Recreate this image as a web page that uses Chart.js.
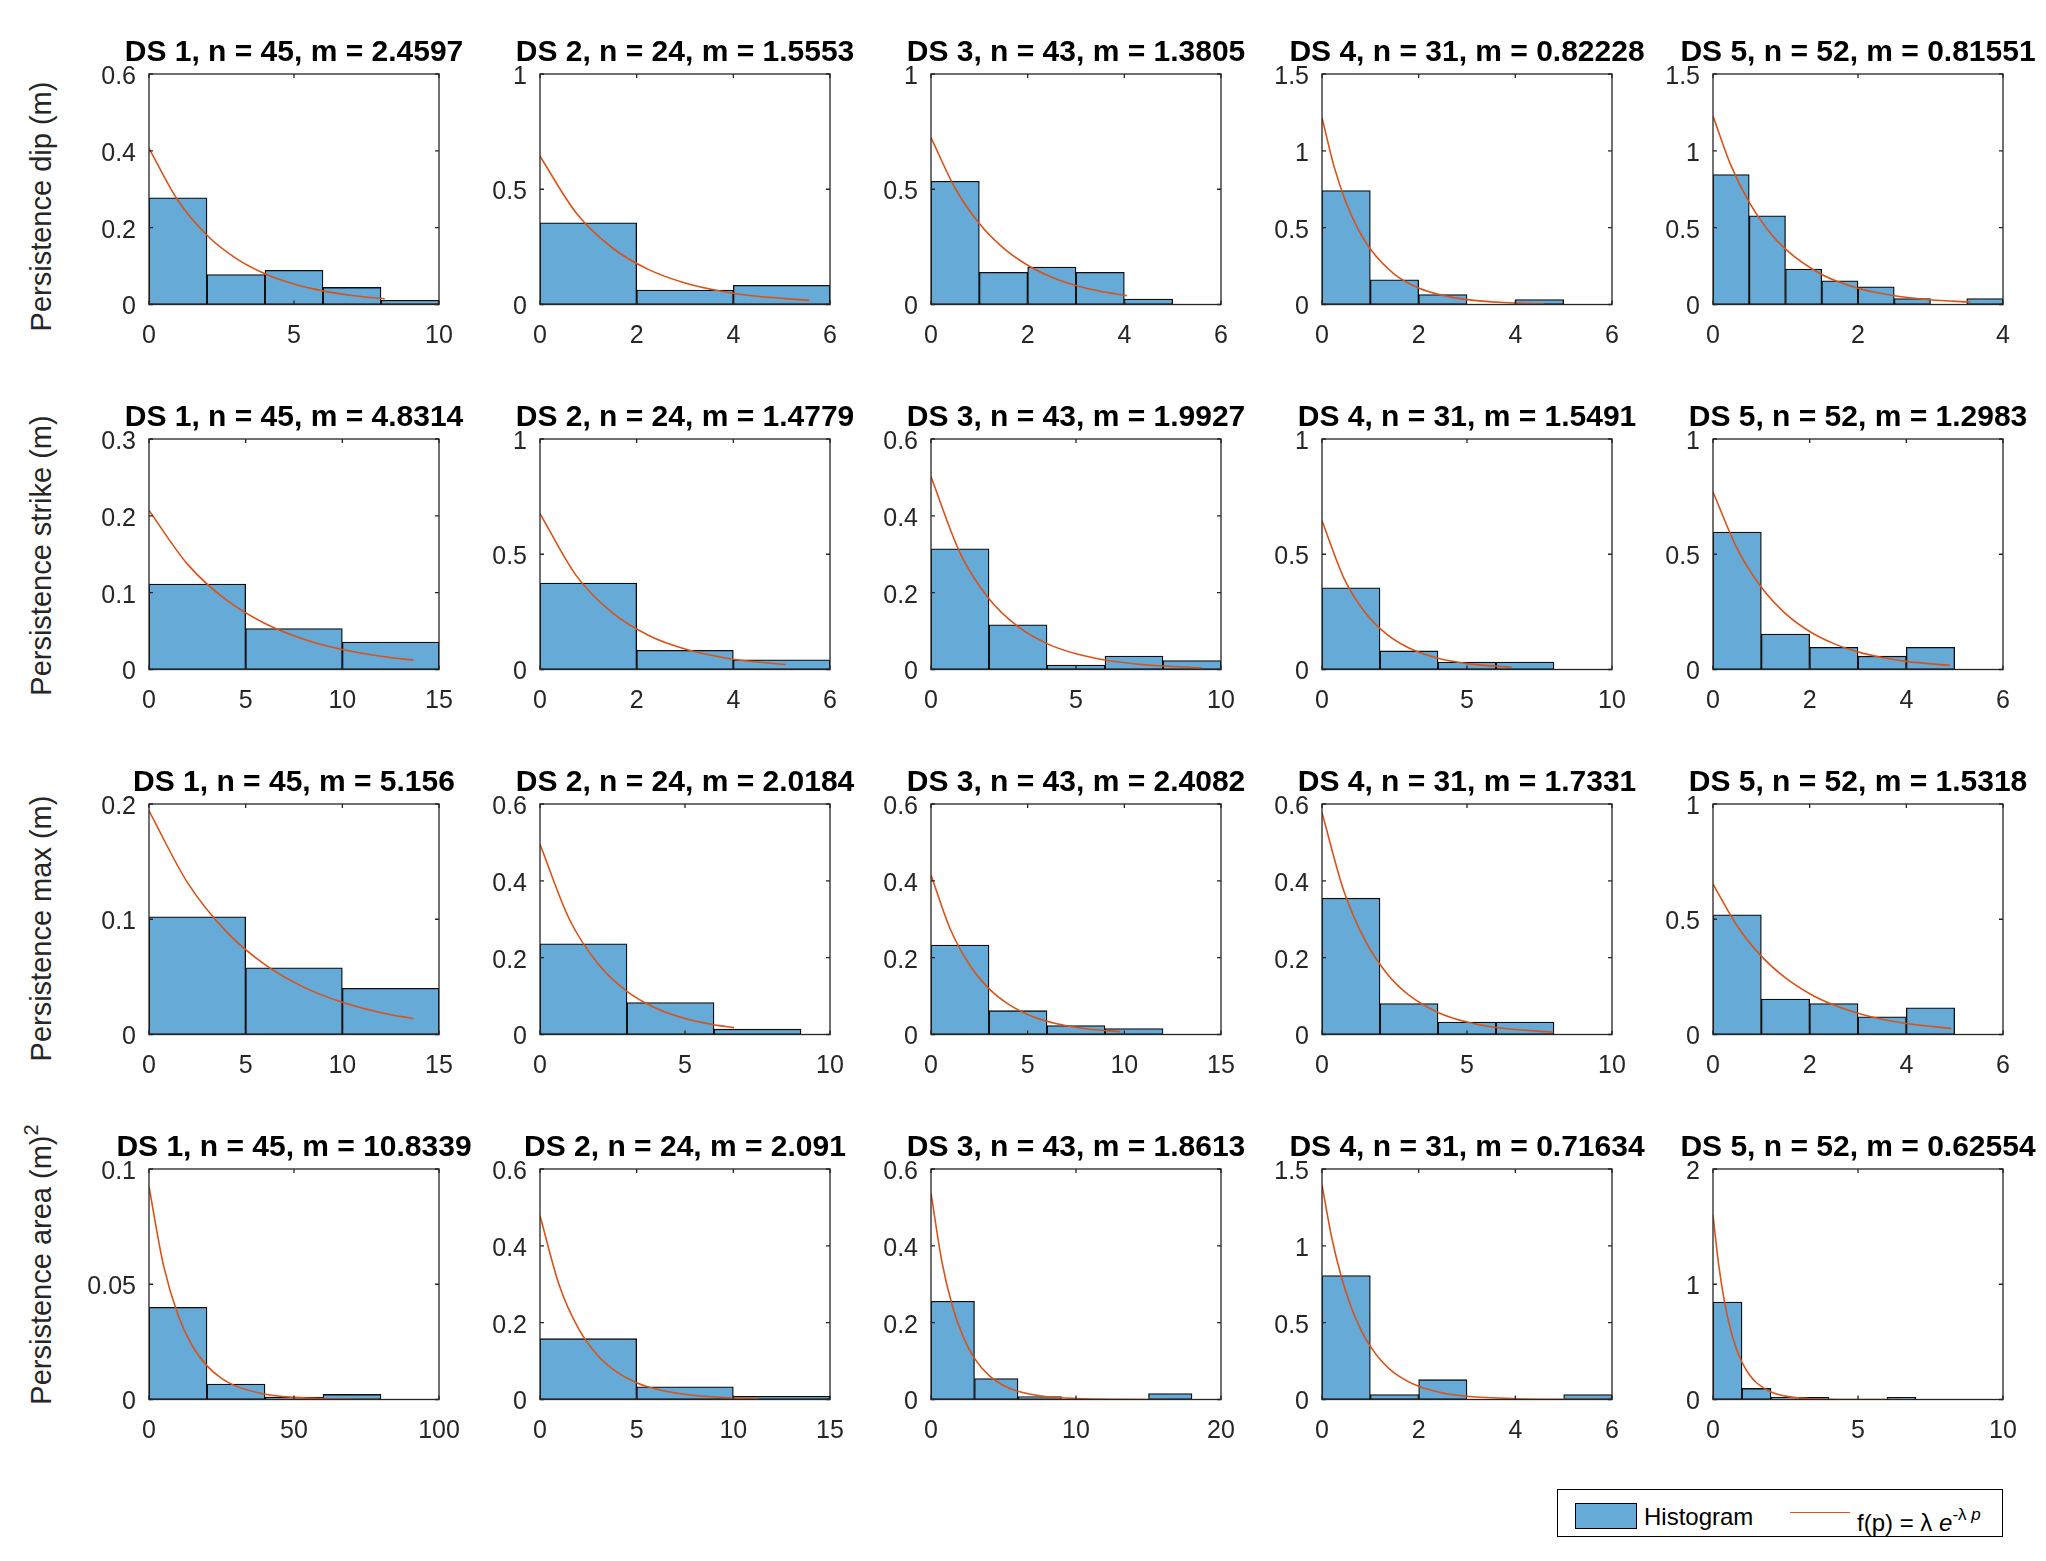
<!DOCTYPE html>
<html>
<head>
<meta charset="utf-8">
<script src="https://cdn.jsdelivr.net/npm/chart.js@4.4.1/dist/chart.umd.min.js"></script>
<style>
  html, body { margin: 0; padding: 0; background: #fff; }
  #fig { position: relative; width: 2046px; height: 1561px; overflow: hidden; font-family: "Liberation Sans", Arial, sans-serif; }
  #fig canvas { position: absolute; }
  .ylabel { position: absolute; width: 400px; height: 29px; line-height: 29px; font-size: 29px; text-align: center; color: #262626; transform: rotate(-90deg); white-space: nowrap; }
  .ylabel .sup { font-size: 20px; position: relative; top: -13px; }
  #legend { position: absolute; left: 1557px; top: 1489px; width: 446px; height: 48px; box-sizing: border-box; border: 1.3px solid #000; background: #fff; font-size: 24px; color: #000; }
  #legend .patch { position: absolute; left: 17px; top: 13px; width: 62px; height: 26px; box-sizing: border-box; background: #66AAD7; border: 1.3px solid #000; }
  #legend .txt { position: absolute; top: 15px; line-height: 24px; white-space: nowrap; }
  #legend .line { position: absolute; left: 232px; top: 21.5px; width: 60px; height: 1.6px; background: #D95319; }
  #legend sup { font-size: 17px; position: relative; top: -2px; }
</style>
</head>
<body>
<div id="fig">
  <div id="legend">
    <span class="patch"></span>
    <span class="txt" style="left:86px">Histogram</span>
    <span class="line"></span>
    <span class="txt" style="left:299px">f(p) = λ <i>e</i><sup>-λ <i>p</i></sup></span>
  </div>
</div>
<script>
// ---- data ----
const rowLabels = ["Persistence dip (m)", "Persistence strike (m)", "Persistence max (m)", "Persistence area (m)"];

// row 1: dip
const dipTitles = ["DS 1, n = 45, m = 2.4597", "DS 2, n = 24, m = 1.5553", "DS 3, n = 43, m = 1.3805", "DS 4, n = 31, m = 0.82228", "DS 5, n = 52, m = 0.81551"];
const dipBinWidth = [2, 2, 1, 1, 0.5];
const dipHeights = [
  [0.2778, 0.0778, 0.0889, 0.0444, 0.0111],
  [0.3542, 0.0625, 0.0833],
  [0.5349, 0.1395, 0.1628, 0.1395, 0.0233],
  [0.7419, 0.1613, 0.0645, 0, 0.0323],
  [0.8462, 0.5769, 0.2308, 0.1538, 0.1154, 0.0385, 0, 0.0385],
];
const dipCurveX = [
  [0, 1, 2, 3, 4, 5, 6, 7, 8.13],
  [0, 0.75, 1.5, 2.25, 3, 3.75, 4.5, 5.57],
  [0, 0.5, 1, 1.5, 2, 2.5, 3, 3.5, 4.05],
  [0, 0.25, 0.5, 0.75, 1, 1.5, 2, 2.5, 3, 3.75, 4.59],
  [0, 0.25, 0.5, 0.75, 1, 1.5, 2, 2.5, 3, 3.55],
];
const dipCurveY = [
  [0.4066, 0.2707, 0.1803, 0.1201, 0.08, 0.0533, 0.0355, 0.0236, 0.0149],
  [0.643, 0.397, 0.2451, 0.1513, 0.0934, 0.0577, 0.0356, 0.0179],
  [0.7244, 0.5043, 0.351, 0.2444, 0.1702, 0.1184, 0.0824, 0.0574, 0.0385],
  [1.2161, 0.8974, 0.6621, 0.4885, 0.3605, 0.1963, 0.1068, 0.0581, 0.0316, 0.0127, 0.0046],
  [1.2262, 0.9024, 0.6642, 0.4888, 0.3598, 0.1948, 0.1056, 0.0571, 0.031, 0.0158],
];
const dipXTicks = [[0, 5, 10], [0, 2, 4, 6], [0, 2, 4, 6], [0, 2, 4, 6], [0, 2, 4]];
const dipYTicks = [[0, 0.2, 0.4, 0.6], [0, 0.5, 1], [0, 0.5, 1], [0, 0.5, 1, 1.5], [0, 0.5, 1, 1.5]];

// row 2: strike
const strikeTitles = ["DS 1, n = 45, m = 4.8314", "DS 2, n = 24, m = 1.4779", "DS 3, n = 43, m = 1.9927", "DS 4, n = 31, m = 1.5491", "DS 5, n = 52, m = 1.2983"];
const strikeBinWidth = [5, 2, 2, 2, 1];
const strikeHeights = [
  [0.1111, 0.0533, 0.0356],
  [0.375, 0.0833, 0.0417],
  [0.314, 0.1163, 0.0116, 0.0349, 0.0233],
  [0.3548, 0.0806, 0.0323, 0.0323],
  [0.5962, 0.1538, 0.0962, 0.0577, 0.0962],
];
const strikeCurveX = [
  [0, 2, 4, 6, 8, 10, 12, 13.67],
  [0, 0.75, 1.5, 2.25, 3, 3.75, 4.5, 5.09],
  [0, 1, 2, 3, 4, 5, 6, 7, 8, 9.32],
  [0, 0.75, 1.5, 2.25, 3, 4, 5, 6.54],
  [0, 0.5, 1, 1.5, 2, 2.5, 3, 3.5, 4, 4.9],
];
const strikeCurveY = [
  [0.207, 0.1368, 0.0905, 0.0598, 0.0395, 0.0261, 0.0173, 0.0122],
  [0.6766, 0.4073, 0.2452, 0.1476, 0.0888, 0.0535, 0.0322, 0.0216],
  [0.5018, 0.3038, 0.1839, 0.1114, 0.0674, 0.0408, 0.0247, 0.015, 0.009, 0.0047],
  [0.6455, 0.3978, 0.2451, 0.1511, 0.0931, 0.0488, 0.0256, 0.0095],
  [0.7702, 0.5241, 0.3565, 0.2426, 0.165, 0.1123, 0.0764, 0.052, 0.0354, 0.0177],
];
const strikeXTicks = [[0, 5, 10, 15], [0, 2, 4, 6], [0, 5, 10], [0, 5, 10], [0, 2, 4, 6]];
const strikeYTicks = [[0, 0.1, 0.2, 0.3], [0, 0.5, 1], [0, 0.2, 0.4, 0.6], [0, 0.5, 1], [0, 0.5, 1]];

// row 3: max
const maxTitles = ["DS 1, n = 45, m = 5.156", "DS 2, n = 24, m = 2.0184", "DS 3, n = 43, m = 2.4082", "DS 4, n = 31, m = 1.7331", "DS 5, n = 52, m = 1.5318"];
const maxBinWidth = [5, 3, 3, 2, 1];
const maxHeights = [
  [0.1022, 0.0578, 0.04],
  [0.2361, 0.0833, 0.0139],
  [0.2326, 0.062, 0.0233, 0.0155],
  [0.3548, 0.0806, 0.0323, 0.0323],
  [0.5192, 0.1538, 0.1346, 0.0769, 0.1154],
];
const maxCurveX = [
  [0, 2, 4, 6, 8, 10, 12, 13.67],
  [0, 1, 2, 3, 4, 5, 6, 6.69],
  [0, 1, 2, 3, 4, 5, 6, 7, 8, 9.8],
  [0, 0.75, 1.5, 2.25, 3, 4, 5, 6, 7.98],
  [0, 0.5, 1, 1.5, 2, 2.5, 3, 3.5, 4, 4.93],
];
const maxCurveY = [
  [0.194, 0.1316, 0.0893, 0.0606, 0.0411, 0.0279, 0.0189, 0.0137],
  [0.4954, 0.3019, 0.184, 0.1121, 0.0683, 0.0416, 0.0253, 0.018],
  [0.4152, 0.2741, 0.181, 0.1195, 0.0789, 0.0521, 0.0344, 0.0227, 0.015, 0.0071],
  [0.577, 0.3743, 0.2428, 0.1575, 0.1022, 0.0574, 0.0323, 0.0181, 0.0058],
  [0.6528, 0.471, 0.3399, 0.2452, 0.1769, 0.1276, 0.0921, 0.0665, 0.0479, 0.0261],
];
const maxXTicks = [[0, 5, 10, 15], [0, 5, 10], [0, 5, 10, 15], [0, 5, 10], [0, 2, 4, 6]];
const maxYTicks = [[0, 0.1, 0.2], [0, 0.2, 0.4, 0.6], [0, 0.2, 0.4, 0.6], [0, 0.2, 0.4, 0.6], [0, 0.5, 1]];

// row 4: area
const areaTitles = ["DS 1, n = 45, m = 10.8339", "DS 2, n = 24, m = 2.091", "DS 3, n = 43, m = 1.8613", "DS 4, n = 31, m = 0.71634", "DS 5, n = 52, m = 0.62554"];
const areaBinWidth = [20, 5, 3, 1, 1];
const areaHeights = [
  [0.04, 0.0067, 0.0011, 0.0022],
  [0.1583, 0.0333, 0.0083],
  [0.2558, 0.0543, 0.0078, 0, 0, 0.0155],
  [0.8065, 0.0323, 0.129, 0, 0, 0.0323],
  [0.8462, 0.0962, 0.0192, 0.0192, 0, 0, 0.0192],
];
const areaCurveX = [
  [0, 5, 10, 15, 20, 25, 30, 40, 50, 60, 79],
  [0, 1, 2, 3, 4, 5, 6, 7, 8, 9.5, 11.3],
  [0, 0.75, 1.5, 2.25, 3, 4, 5, 6, 8, 10, 13, 16.4],
  [0, 0.2, 0.4, 0.6, 0.8, 1, 1.25, 1.5, 2, 2.5, 3, 4, 5, 5.95],
  [0, 0.2, 0.4, 0.6, 0.8, 1, 1.25, 1.5, 2, 2.5, 3, 4, 5, 6.5],
];
const areaCurveY = [
  [0.0923, 0.0582, 0.0367, 0.0231, 0.0146, 0.0092, 0.0058, 0.0023, 0.00091, 0.00036, 0.00006],
  [0.4782, 0.2965, 0.1837, 0.1139, 0.0706, 0.0438, 0.0271, 0.0168, 0.0104, 0.0051, 0.0022],
  [0.5373, 0.3591, 0.24, 0.1604, 0.1072, 0.0626, 0.0366, 0.0214, 0.0073, 0.0025, 0.0005, 0.0001],
  [1.396, 1.0559, 0.7986, 0.6042, 0.4569, 0.3456, 0.2437, 0.172, 0.0856, 0.0426, 0.0212, 0.0052, 0.0013, 0.0003],
  [1.5986, 1.1612, 0.8434, 0.6126, 0.4449, 0.3232, 0.2168, 0.1453, 0.0654, 0.0294, 0.0132, 0.0027, 0.0005, 0.00005],
];
const areaXTicks = [[0, 50, 100], [0, 5, 10, 15], [0, 10, 20], [0, 2, 4, 6], [0, 5, 10]];
const areaYTicks = [[0, 0.05, 0.1], [0, 0.2, 0.4, 0.6], [0, 0.2, 0.4, 0.6], [0, 0.5, 1, 1.5], [0, 1, 2]];

const rows = [
  { titles: dipTitles, bw: dipBinWidth, h: dipHeights, cx: dipCurveX, cy: dipCurveY, xt: dipXTicks, yt: dipYTicks },
  { titles: strikeTitles, bw: strikeBinWidth, h: strikeHeights, cx: strikeCurveX, cy: strikeCurveY, xt: strikeXTicks, yt: strikeYTicks },
  { titles: maxTitles, bw: maxBinWidth, h: maxHeights, cx: maxCurveX, cy: maxCurveY, xt: maxXTicks, yt: maxYTicks },
  { titles: areaTitles, bw: areaBinWidth, h: areaHeights, cx: areaCurveX, cy: areaCurveY, xt: areaXTicks, yt: areaYTicks },
];

// ---- layout ----
const FONT = '"Liberation Sans", Arial, sans-serif';
const AXIS_COLOR = "#262626";
const BOX_W = 290;
const BOX_H = 230.5;
const colLeft = [149, 540, 931, 1322, 1712.5];
const rowTop = [73.5, 438.5, 803.5, 1168.5];
const labelCenterY = [206, 555, 928, 1264];
const M = { l: 90, t: 50, r: 45, b: 60.5 };

// box, inward ticks on all four sides, and bold title
const matlabAxes = {
  id: "matlabAxes",
  afterDraw(chart, args, opts) {
    const { ctx, chartArea: a } = chart;
    const x = chart.scales.x;
    const y = chart.scales.y;
    const tl = 4;
    ctx.save();
    ctx.strokeStyle = AXIS_COLOR;
    ctx.lineWidth = 1.3;
    ctx.beginPath();
    x.ticks.forEach((t) => {
      const px = x.getPixelForValue(t.value);
      ctx.moveTo(px, a.bottom);
      ctx.lineTo(px, a.bottom - tl);
      ctx.moveTo(px, a.top);
      ctx.lineTo(px, a.top + tl);
    });
    y.ticks.forEach((t) => {
      const py = y.getPixelForValue(t.value);
      ctx.moveTo(a.left, py);
      ctx.lineTo(a.left + tl, py);
      ctx.moveTo(a.right, py);
      ctx.lineTo(a.right - tl, py);
    });
    ctx.stroke();
    ctx.strokeRect(a.left, a.top, a.right - a.left, a.bottom - a.top);
    ctx.fillStyle = "#000";
    ctx.font = "bold 30px " + FONT;
    ctx.textAlign = "center";
    ctx.textBaseline = "alphabetic";
    ctx.fillText(opts.title, (a.left + a.right) / 2, a.top - 13);
    ctx.restore();
  },
};

const fig = document.getElementById("fig");

function tickScale(ticks, extra) {
  return Object.assign(
    {
      type: "linear",
      min: ticks[0],
      max: ticks[ticks.length - 1],
      offset: false,
      grid: { display: false, drawTicks: false },
      border: { display: false },
      afterBuildTicks: (axis) => {
        axis.ticks = ticks.map((v) => ({ value: v }));
      },
      ticks: {
        autoSkip: false,
        maxRotation: 0,
        color: AXIS_COLOR,
        font: { family: FONT, size: 25 },
        callback: (v) => String(v),
      },
    },
    extra
  );
}

rows.forEach((row, r) => {
  // y label for the row
  const lab = document.createElement("div");
  lab.className = "ylabel";
  lab.style.left = 41 - 200 + "px";
  lab.style.top = labelCenterY[r] - 14.5 + "px";
  lab.textContent = rowLabels[r];
  if (r === 3) {
    const s = document.createElement("span");
    s.className = "sup";
    s.textContent = "2";
    lab.appendChild(s);
  }
  fig.appendChild(lab);

  for (let c = 0; c < 5; c++) {
    const canvas = document.createElement("canvas");
    const w = M.l + BOX_W + M.r;
    const h = M.t + BOX_H + M.b;
    canvas.width = w;
    canvas.height = h;
    canvas.style.width = w + "px";
    canvas.style.height = h + "px";
    canvas.style.left = colLeft[c] - M.l + "px";
    canvas.style.top = rowTop[r] - M.t + "px";
    fig.appendChild(canvas);

    const bw = row.bw[c];
    const bars = row.h[c].map((v, i) => ({ x: (i + 0.5) * bw, y: v }));
    const curve = row.cx[c].map((v, i) => ({ x: v, y: row.cy[c][i] }));

    const xScale = tickScale(row.xt[c], {
      afterFit: (s) => {
        s.height = M.b;
      },
    });
    xScale.ticks.padding = 17;
    const yScale = tickScale(row.yt[c], {
      afterFit: (s) => {
        s.width = M.l;
      },
    });
    yScale.ticks.padding = 13;
    yScale.ticks.labelOffset = 3;

    new Chart(canvas, {
      type: "bar",
      data: {
        datasets: [
          {
            type: "line",
            data: curve,
            borderColor: "#D95319",
            borderWidth: 1.6,
            pointRadius: 0,
            cubicInterpolationMode: "monotone",
            fill: false,
            order: 0,
          },
          {
            type: "bar",
            data: bars,
            backgroundColor: "#66AAD7",
            borderColor: "#0d0d0d",
            borderWidth: 1.3,
            borderSkipped: false,
            barPercentage: 1,
            categoryPercentage: 1,
            grouped: false,
            order: 1,
          },
        ],
      },
      options: {
        responsive: false,
        animation: false,
        devicePixelRatio: 1,
        layout: { padding: { left: 0, top: M.t, right: M.r, bottom: 0 } },
        plugins: {
          legend: { display: false },
          tooltip: { enabled: false },
          matlabAxes: { title: row.titles[c] },
        },
        scales: { x: xScale, y: yScale },
      },
      plugins: [matlabAxes],
    });
  }
});
</script>
</body>
</html>
